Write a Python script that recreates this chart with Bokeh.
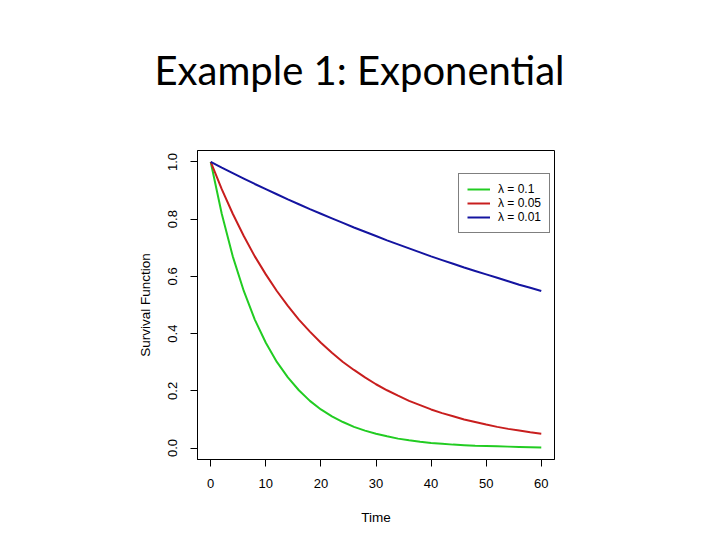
from bokeh.plotting import figure
from bokeh.layouts import column
from bokeh.models import Range1d, FixedTicker, PrintfTickFormatter, Legend, LegendItem, Title
from bokeh.embed import file_html
from bokeh.resources import INLINE

time = [0, 2, 4, 6, 8, 10, 12, 14, 16, 18, 20, 22, 24, 26, 28, 30,
        32, 34, 36, 38, 40, 42, 44, 46, 48, 50, 52, 54, 56, 58, 60]
surv_01 = [1.000, 0.819, 0.670, 0.549, 0.449, 0.368, 0.301, 0.247, 0.202, 0.165, 0.135,
           0.111, 0.091, 0.074, 0.061, 0.050, 0.041, 0.033, 0.027, 0.022, 0.018,
           0.015, 0.012, 0.010, 0.008, 0.007, 0.006, 0.005, 0.004, 0.003, 0.002]
surv_005 = [1.000, 0.905, 0.819, 0.741, 0.670, 0.607, 0.549, 0.497, 0.449, 0.407, 0.368,
            0.333, 0.301, 0.273, 0.247, 0.223, 0.202, 0.183, 0.165, 0.150, 0.135,
            0.122, 0.111, 0.100, 0.091, 0.082, 0.074, 0.067, 0.061, 0.055, 0.050]
surv_001 = [1.000, 0.980, 0.961, 0.942, 0.923, 0.905, 0.887, 0.869, 0.852, 0.835, 0.819,
            0.803, 0.787, 0.771, 0.756, 0.741, 0.726, 0.712, 0.698, 0.684, 0.670,
            0.657, 0.644, 0.631, 0.619, 0.607, 0.595, 0.583, 0.571, 0.560, 0.549]
labels = ["λ = 0.1", "λ = 0.05", "λ = 0.01"]
x_ticks = [0, 10, 20, 30, 40, 50, 60]
y_ticks = [0.0, 0.2, 0.4, 0.6, 0.8, 1.0]
title_text = "Example 1: Exponential"

FONT = "Liberation Sans"

# --- slide title strip (its frame is aligned with the chart's frame by the column) ---
ft = figure(width=712, height=145, output_backend="svg", toolbar_location=None,
            min_border_left=0, min_border_right=0, min_border_top=0, min_border_bottom=0)
ft.xaxis.visible = False
ft.yaxis.visible = False
ft.xgrid.visible = False
ft.ygrid.visible = False
ft.outline_line_color = None
ft.background_fill_color = "white"
ft.border_fill_color = "white"
ft.add_layout(Title(text=title_text, align="left", offset=-43, vertical_align="top",
                    text_font="Lato", text_font_size="40px", text_font_style="normal",
                    text_color="black", standoff=90), "above")

# --- chart ---
p = figure(width=712, height=387, output_backend="svg", toolbar_location=None,
           x_range=Range1d(-2.4, 62.4), y_range=Range1d(-0.04, 1.04),
           min_border_left=197, min_border_right=158, min_border_top=5, min_border_bottom=73)
p.background_fill_color = "white"
p.border_fill_color = "white"
p.outline_line_color = "black"
p.outline_line_width = 1
p.xgrid.visible = False
p.ygrid.visible = False

for ax in (p.xaxis[0], p.yaxis[0]):
    ax.axis_line_color = "black"
    ax.major_tick_line_color = "black"
    ax.major_tick_out = 7
    ax.major_tick_in = 0
    ax.minor_tick_line_color = None
    ax.major_label_text_font = FONT
    ax.major_label_text_font_size = "13px"
    ax.major_label_text_color = "black"
    ax.axis_label_text_font = FONT
    ax.axis_label_text_font_size = "13.5px"
    ax.axis_label_text_font_style = "normal"
    ax.axis_label_text_color = "black"

p.xaxis.ticker = FixedTicker(ticks=x_ticks)
p.yaxis.ticker = FixedTicker(ticks=y_ticks)
p.yaxis.formatter = PrintfTickFormatter(format="%.1f")
p.yaxis.major_label_orientation = "vertical"
p.xaxis.axis_label = "Time"
p.yaxis.axis_label = "Survival Function"
p.xaxis.major_label_standoff = 12
p.xaxis.axis_label_standoff = 19
p.yaxis.major_label_standoff = 13
p.yaxis.axis_label_standoff = 13

r1 = p.line(time, surv_01, line_color="#22cc22", line_width=2)
r2 = p.line(time, surv_005, line_color="#c81e1e", line_width=2)
r3 = p.line(time, surv_001, line_color="#1414a0", line_width=2)

legend = Legend(items=[LegendItem(label=labels[0], renderers=[r1]),
                       LegendItem(label=labels[1], renderers=[r2]),
                       LegendItem(label=labels[2], renderers=[r3])],
                location=(261, 226))
legend.border_line_color = "black"
legend.border_line_width = 1
legend.background_fill_color = "white"
legend.background_fill_alpha = 1
legend.label_text_font = FONT
legend.label_text_font_size = "12px"
legend.label_text_color = "black"
legend.label_height = 12
legend.glyph_height = 12
legend.glyph_width = 23
legend.label_standoff = 8
legend.spacing = 0
legend.padding = 8
legend.margin = 0
p.add_layout(legend, "center")

page = column(ft, p, spacing=0)
open("out.html", "w").write(file_html(page, INLINE))
